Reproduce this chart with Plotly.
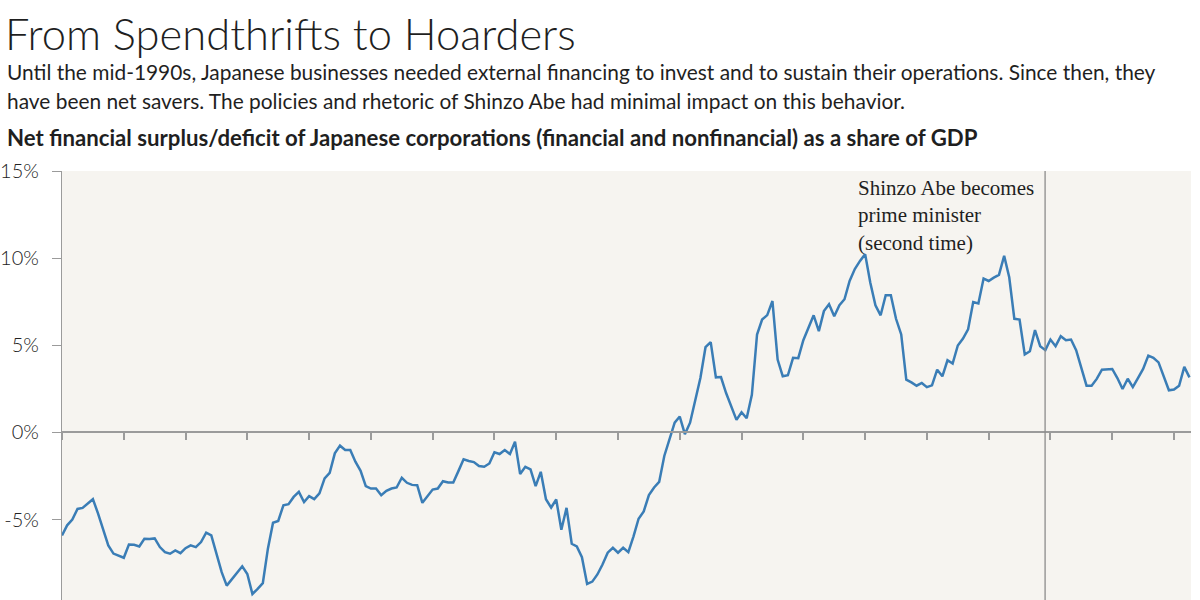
import plotly.graph_objects as go

# ---- data ----
years = list(range(1965, 2020))
quarter_ends = ["03-31", "06-30", "09-30", "12-31"]
dates = [f"{y}-{q}" for y in years for q in quarter_ends]  # 1965Q1 .. 2019Q4

surplus_pct = [
    # 1965Q1 - 1974Q1
    -5.91, -5.33, -5.00, -4.39, -4.33, -4.08, -3.83, -4.66, -5.62, -6.48,
    -6.95, -7.07, -7.19, -6.43, -6.45, -6.54, -6.10, -6.12, -6.08, -6.58,
    -6.87, -6.96, -6.77, -6.93, -6.64, -6.48, -6.58, -6.29, -5.75, -5.91,
    -6.96, -8.02, -8.79, -8.40, -8.02, -7.68, -8.12,
    # next 37 quarters
    -9.27, -8.98, -8.65, -6.67, -5.18, -5.08, -4.18, -4.12, -3.70, -3.41,
    -3.99, -3.66, -3.83, -3.50, -2.64, -2.32, -1.20, -0.76, -1.01, -1.01,
    -1.68, -2.20, -3.08, -3.22, -3.22, -3.60, -3.35, -3.22, -3.16, -2.60,
    -2.89, -3.01, -3.03, -4.04, -3.66, -3.28, -3.22,
    # next 37
    -2.80, -2.87, -2.87, -2.22, -1.54, -1.64, -1.70, -1.93, -1.97, -1.78,
    -1.14, -1.24, -1.01, -1.24, -0.53, -2.39, -1.97, -2.12, -3.08, -2.26,
    -3.83, -4.31, -3.85, -5.58, -4.33, -6.39, -6.54, -7.16, -8.69, -8.56,
    -8.15, -7.58, -6.90, -6.62, -6.90, -6.62, -6.87,
    # next 37
    -5.96, -4.95, -4.53, -3.60, -3.16, -2.84, -1.35, -0.43, 0.56, 0.91,
    -0.10, 0.56, 1.87, 3.12, 4.89, 5.18, 3.16, 3.18, 2.26, 1.49,
    0.72, 1.16, 0.81, 2.16, 5.62, 6.48, 6.73, 7.54, 4.18, 3.22,
    3.28, 4.28, 4.26, 5.29, 6.05, 6.72, 5.81,
    # next 37
    6.96, 7.35, 6.67, 7.30, 7.64, 8.69, 9.37, 9.84, 10.23, 8.60,
    7.30, 6.72, 7.87, 7.87, 6.52, 5.62, 3.03, 2.87, 2.68, 2.84,
    2.60, 2.70, 3.60, 3.22, 4.14, 3.95, 4.99, 5.39, 5.91, 7.48,
    7.40, 8.83, 8.69, 8.88, 9.04, 10.13, 8.90,
    # last 35
    6.52, 6.48, 4.47, 4.66, 5.87, 4.95, 4.72, 5.33, 4.95, 5.52,
    5.29, 5.33, 4.72, 3.76, 2.68, 2.68, 3.07, 3.60, 3.60, 3.64,
    3.12, 2.49, 3.08, 2.60, 3.12, 3.64, 4.41, 4.28, 4.02, 3.22,
    2.42, 2.46, 2.68, 3.76, 3.16,
]

y_tick_vals = [-5, 0, 5, 10, 15]
y_tick_text = ["-5%", "0%", "5%", "10%", "15%"]
abe_date = "2012-12-26"
abe_label = "Shinzo Abe becomes<br>prime minister<br>(second time)"

title_text = "From Spendthrifts to Hoarders"
subtitle_lines = [
    "Until the mid-1990s, Japanese businesses needed external financing to invest and to sustain their operations. Since then, they",
    "have been net savers. The policies and rhetoric of Shinzo Abe had minimal impact on this behavior.",
]
chart_label = "Net financial surplus/deficit of Japanese corporations (financial and nonfinancial) as a share of GDP"

# ---- layout geometry ----
W, H = 1200, 600
L, R, T, B = 62, 9, 171, 0
Y_MIN, Y_MAX = -9.615, 15
plot_w = W - L - R
plot_h = H - T - B


def px_x(px):
    return (px - L) / plot_w


def px_y(py):
    return (H - B - py) / plot_h


AXIS_GREY = "#9b9b9b"
TEXT = "#1f1f1f"
SANS = "Lato"

fig = go.Figure()
fig.add_trace(go.Scatter(
    x=dates, y=surplus_pct, mode="lines",
    line=dict(color="#3a7db6", width=2.5),
    hoverinfo="skip",
))

fig.add_shape(type="line", xref="x", yref="paper",
              x0=abe_date, x1=abe_date, y0=0, y1=1,
              line=dict(color="#8c8c8c", width=1.3), layer="above")

fig.update_layout(
    width=W, height=H,
    margin=dict(l=L, r=R, t=T, b=B, autoexpand=False),
    paper_bgcolor="white",
    plot_bgcolor="#f6f4f0",
    showlegend=False,
    xaxis=dict(
        type="date",
        range=["1965-03-31", "2020-01-27"],
        showgrid=False, zeroline=False,
        showline=True, linecolor=AXIS_GREY, linewidth=1.5,
        anchor="free", position=(0 - Y_MIN) / (Y_MAX - Y_MIN),
        ticks="outside", ticklen=7, tickwidth=1.5, tickcolor=AXIS_GREY,
        tick0="1965-03-31", dtick="M36",
        showticklabels=False,
    ),
    yaxis=dict(
        range=[Y_MIN, Y_MAX],
        tickvals=y_tick_vals, ticktext=y_tick_text,
        showgrid=False, zeroline=False,
        showline=True, linecolor=AXIS_GREY, linewidth=1.2,
        ticks="outside", ticklen=9, tickwidth=1.2, tickcolor=AXIS_GREY,
        ticklabelstandoff=9,
        tickfont=dict(family=SANS, size=20, color="#222222", weight=300),
    ),
)

annotations = [
    dict(text=title_text, x=px_x(3), y=px_y(33), xanchor="left", yanchor="middle",
         font=dict(family=SANS, size=43.5, color=TEXT, weight=300)),
    dict(text=subtitle_lines[0], x=px_x(5), y=px_y(72), xanchor="left", yanchor="middle",
         font=dict(family=SANS, size=20.9, color=TEXT, weight=400)),
    dict(text=subtitle_lines[1], x=px_x(5), y=px_y(101), xanchor="left", yanchor="middle",
         font=dict(family=SANS, size=20.9, color=TEXT, weight=400)),
    dict(text=chart_label, x=px_x(5), y=px_y(137), xanchor="left", yanchor="middle",
         font=dict(family=SANS, size=22.2, color=TEXT, weight=700)),
    dict(text=abe_label, x=px_x(856), y=px_y(174), xanchor="left", yanchor="top",
         align="left",
         font=dict(family="Liberation Serif", size=21, color=TEXT)),
    dict(text="-10%", x=px_x(42), y=px_y(607), xanchor="right", yanchor="middle",
         font=dict(family=SANS, size=20, color="#222222", weight=300)),
]
for a in annotations:
    a.update(xref="paper", yref="paper", showarrow=False)
fig.update_layout(annotations=annotations)

fig.write_html("out.html")
